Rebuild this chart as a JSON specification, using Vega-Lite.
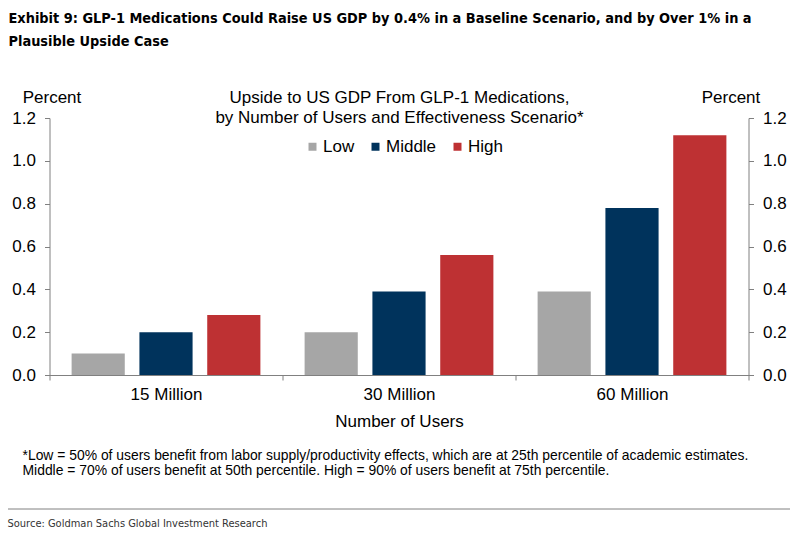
{
  "$schema": "https://vega.github.io/schema/vega-lite/v6.json",
  "autosize": "none",
  "padding": {"left": 8, "top": 118, "right": 791, "bottom": 423},
  "bounds": "flush",
  "center": true,
  "spacing": 133,
  "background": "white",
  "config": {
    "font": "Liberation Sans, Arial, sans-serif",
    "view": {"stroke": null},
    "axis": {
      "labelColor": "black",
      "titleColor": "black",
      "titleFontWeight": "normal",
      "labelFontSize": 17,
      "titleFontSize": 17,
      "domainColor": "#808080",
      "tickColor": "#808080",
      "grid": false
    }
  },
  "datasets": {
    "gdp": [
      {"users": "15 Million", "scenario": "Low", "value": 0.10},
      {"users": "15 Million", "scenario": "Middle", "value": 0.20},
      {"users": "15 Million", "scenario": "High", "value": 0.28},
      {"users": "30 Million", "scenario": "Low", "value": 0.20},
      {"users": "30 Million", "scenario": "Middle", "value": 0.39},
      {"users": "30 Million", "scenario": "High", "value": 0.56},
      {"users": "60 Million", "scenario": "Low", "value": 0.39},
      {"users": "60 Million", "scenario": "Middle", "value": 0.78},
      {"users": "60 Million", "scenario": "High", "value": 1.12}
    ],
    "line": [{"pos": 0}]
  },
  "vconcat": [
    {
      "width": 699,
      "height": 257,
      "data": {"name": "gdp"},
      "layer": [
        {
          "mark": {"type": "bar"},
          "encoding": {
            "x": {
              "field": "users",
              "type": "nominal",
              "scale": {"domain": ["15 Million", "30 Million", "60 Million"], "paddingInner": 0, "paddingOuter": 0},
              "axis": {
                "orient": "bottom",
                "tickBand": "extent",
                "labelAngle": 0,
                "labelPadding": 6,
                "tickSize": 5,
                "title": "Number of Users",
                "titleX": 349.5,
                "titleY": 46,
                "titleAlign": "center",
                "titleBaseline": "middle"
              }
            },
            "xOffset": {
              "field": "scenario",
              "sort": ["Low", "Middle", "High"],
              "scale": {"paddingInner": 0.216, "paddingOuter": 0.326}
            },
            "y": {
              "field": "value",
              "type": "quantitative",
              "scale": {"domain": [0, 1.2], "nice": false},
              "axis": {
                "orient": "left",
                "values": [0, 0.2, 0.4, 0.6, 0.8, 1.0, 1.2],
                "format": ".1f",
                "tickSize": 5,
                "labelPadding": 9,
                "title": "Percent",
                "titleAngle": 0,
                "titleX": 2,
                "titleY": -21,
                "titleAlign": "center",
                "titleBaseline": "middle"
              }
            },
            "color": {
              "field": "scenario",
              "type": "nominal",
              "scale": {"domain": ["Low", "Middle", "High"], "range": ["#A6A6A6", "#00335C", "#BE3133"]},
              "legend": {
                "orient": "none",
                "legendX": 296,
                "legendY": 20,
                "direction": "horizontal",
                "title": null,
                "symbolType": "square",
                "symbolSize": 64,
                "symbolStrokeWidth": 0,
                "labelFontSize": 17,
                "labelColor": "black",
                "labelOffset": 2,
                "columnPadding": 12
              }
            }
          }
        },
        {
          "mark": {"type": "bar", "opacity": 0},
          "encoding": {
            "x": {
              "field": "users",
              "type": "nominal",
              "axis": {
                "orient": "top",
                "labels": false,
                "ticks": false,
                "domain": false,
                "title": ["Upside to US GDP From GLP-1 Medications,", "by Number of Users and Effectiveness Scenario*"],
                "titleX": 349.5,
                "titleY": -21,
                "titleAlign": "center",
                "titleBaseline": "middle",
                "titleLineHeight": 20
              }
            },
            "y": {
              "field": "value",
              "type": "quantitative",
              "axis": {
                "orient": "right",
                "values": [0, 0.2, 0.4, 0.6, 0.8, 1.0, 1.2],
                "format": ".1f",
                "tickSize": 5,
                "labelPadding": 9,
                "title": "Percent",
                "titleAngle": 0,
                "titleX": -18,
                "titleY": -21,
                "titleAlign": "center",
                "titleBaseline": "middle"
              }
            }
          }
        },
        {
          "mark": {"type": "bar", "opacity": 0},
          "encoding": {
            "x": {
              "field": "users",
              "type": "nominal",
              "axis": {
                "orient": "top",
                "labels": false,
                "ticks": false,
                "domain": false,
                "title": ["Exhibit 9: GLP-1 Medications Could Raise US GDP by 0.4% in a Baseline Scenario, and by Over 1% in a", "Plausible Upside Case"],
                "titleFont": "Liberation Sans Narrow, DejaVu Sans Condensed, Liberation Sans, sans-serif",
                "titleFontWeight": "bold",
                "titleFontSize": 14.4,
                "titleX": -41.5,
                "titleY": -100,
                "titleAlign": "left",
                "titleBaseline": "middle",
                "titleLineHeight": 23
              }
            },
            "y": {"field": "value", "type": "quantitative", "axis": null}
          }
        },
        {
          "mark": {"type": "bar", "opacity": 0},
          "encoding": {
            "x": {
              "field": "users",
              "type": "nominal",
              "axis": {
                "orient": "bottom",
                "labels": false,
                "ticks": false,
                "domain": false,
                "title": ["*Low = 50% of users benefit from labor supply/productivity effects, which are at 25th percentile of academic estimates.", "Middle = 70% of users benefit at 50th percentile. High = 90% of users benefit at 75th percentile."],
                "titleFontSize": 13.9,
                "titleX": -27.5,
                "titleY": 80,
                "titleAlign": "left",
                "titleBaseline": "middle",
                "titleLineHeight": 15
              }
            },
            "y": {"field": "value", "type": "quantitative", "axis": null}
          }
        }
      ],
      "resolve": {"axis": {"x": "independent", "y": "independent"}}
    },
    {
      "width": 782,
      "height": 1,
      "data": {"name": "line"},
      "title": {
        "text": "Source: Goldman Sachs Global Investment Research",
        "orient": "bottom",
        "anchor": "start",
        "font": "Liberation Sans Narrow, DejaVu Sans Condensed, Liberation Sans, sans-serif",
        "fontSize": 11,
        "fontWeight": "normal",
        "color": "#333333",
        "offset": 8
      },
      "mark": {"type": "rule", "color": "#808080", "strokeWidth": 1},
      "encoding": {
        "y": {"field": "pos", "type": "quantitative", "scale": {"domain": [0, 1]}, "axis": null}
      }
    }
  ]
}
